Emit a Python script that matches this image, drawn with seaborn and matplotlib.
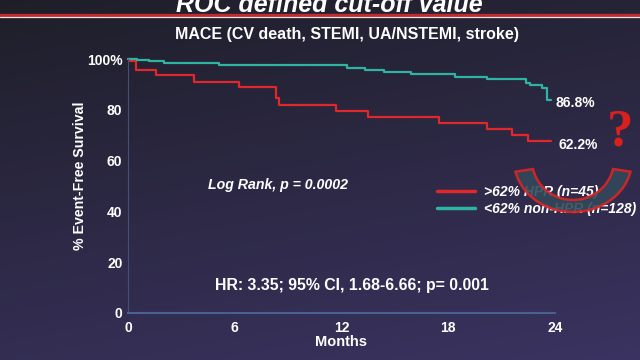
import numpy as np
import pandas as pd
import matplotlib.pyplot as plt
import matplotlib.patches as mpatches
from matplotlib.lines import Line2D
import seaborn as sns

# Kaplan-Meier style event-free survival, MACE, split by HPR cut-off

months_hpr = [0, 0.1, 0.45, 1.6, 3.7, 6.25, 8.3, 8.5, 11.7, 13.5, 17.5, 20.2, 21.6, 22.5, 23.8]
surv_hpr = [100, 99.2, 95.7, 93.7, 90.9, 89.0, 84.6, 81.9, 79.5, 77.2, 74.8, 72.4, 70.1, 67.7, 67.7]

months_non = [0, 0.5, 1.2, 2.0, 5.1, 12.3, 13.3, 14.4, 15.9, 18.4, 20.2, 22.4, 22.6, 23.3, 23.55, 23.8]
surv_non = [100, 99.8, 99.2, 98.5, 97.6, 96.7, 95.9, 95.0, 94.0, 93.0, 92.1, 90.6, 89.8, 88.6, 83.9, 83.9]

groups = [">62% HPR (n=45)", "<62% non-HPR (n=128)"]
end_labels = ["62.2%", "86.8%"]
x_ticks = [0, 6, 12, 18, 24]
y_ticks = [0, 20, 40, 60, 80, 100]
y_ticklabels = ["0", "20", "40", "60", "80", "100%"]

df = pd.concat([
    pd.DataFrame({"Months": months_hpr, "Survival": surv_hpr, "Group": groups[0]}),
    pd.DataFrame({"Months": months_non, "Survival": surv_non, "Group": groups[1]}),
])

sns.set_style("white")
plt.rcParams["font.family"] = ["Liberation Sans", "DejaVu Sans"]

fig = plt.figure(figsize=(6.4, 3.6), dpi=100)

# slide background gradient
bg = fig.add_axes([0, 0, 1, 1], zorder=-5)
yy, xx = np.mgrid[0:1:200j, 0:1:360j]
t = np.clip(0.75 * yy + 0.25 * xx, 0, 1)
top = np.array([0.12, 0.12, 0.16])
bot = np.array([0.23, 0.20, 0.38])
img = top[None, None, :] * (1 - t[..., None]) + bot[None, None, :] * t[..., None]
bg.imshow(img, aspect="auto", extent=[0, 1, 0, 1], origin="upper")
bg.axis("off")

ax = fig.add_axes([0.2, 0.1306, 0.667, 0.705])
ax.set_facecolor("none")
palette = {groups[0]: "#e0282a", groups[1]: "#2fb3a3"}
sns.lineplot(data=df, x="Months", y="Survival", hue="Group", palette=palette,
             estimator=None, sort=False, drawstyle="steps-post", linewidth=1.6,
             ax=ax, legend=True)
for ln in ax.lines:
    ln.set_clip_on(False)

ax.set_xlim(0, 24)
ax.set_ylim(0, 100)
ax.set_xticks(x_ticks)
ax.set_yticks(y_ticks)
ax.set_yticklabels(y_ticklabels)
ax.tick_params(length=0, colors="white", labelsize=10)
ax.tick_params(axis="x", pad=6)
ax.tick_params(axis="y", pad=4)
for lab in ax.get_xticklabels() + ax.get_yticklabels():
    lab.set_fontweight("bold")
for s in ["top", "right"]:
    ax.spines[s].set_visible(False)
ax.spines["left"].set_color("#44507a")
ax.spines["bottom"].set_color("#4a5f92")
ax.spines["bottom"].set_linewidth(1.5)
ax.set_xlabel("Months", color="white", fontsize=10.5, fontweight="bold", labelpad=0)
ax.set_ylabel("% Event-Free Survival", color="white", fontsize=10.2, fontweight="bold")
ax.yaxis.set_label_coords(-0.095, 0.54)

leg = ax.legend(loc="upper left", bbox_to_anchor=(0.683, 0.486),
                bbox_transform=fig.transFigure, frameon=False, borderpad=0,
                borderaxespad=0, handlelength=2.7, handletextpad=0.7,
                labelspacing=0.22,
                prop=dict(style="italic", weight="bold", size=10))
for txt in leg.get_texts():
    txt.set_color("white")
for h in leg.legend_handles:
    h.set_linewidth(2.5)

ax.text(months_hpr[-1] + 0.4, surv_hpr[-1] - 1.5, end_labels[0], color="white",
        fontsize=10, fontweight="bold", va="center", ha="left")
ax.text(months_non[-1] + 0.25, surv_non[-1] - 1, end_labels[1], color="white",
        fontsize=10, fontweight="bold", va="center", ha="left")
ax.text(4.5, 50.5, "Log Rank, p = 0.0002", color="white", fontsize=10.2,
        fontweight="bold", style="italic", va="center")
ax.text(4.9, 11, "HR: 3.35; 95% CI, 1.68-6.66; p= 0.001", color="white",
        fontsize=11.4, fontweight="bold", va="center")

# slide title (cut at the top edge, as on the slide) and rules
fig.text(0.514, 0.967, "ROC defined cut-off value", color="white", fontsize=18,
         fontweight="bold", style="italic", ha="center", va="baseline")
fig.add_artist(Line2D([0, 1], [1 - 14.5 / 360] * 2, color="#c22a2c", lw=2.4))
fig.add_artist(Line2D([0, 1], [1 - 17.3 / 360] * 2, color="#e8e8ee", lw=0.9))
fig.text(0.542, 0.905, "MACE (CV death, STEMI, UA/NSTEMI, stroke)", color="white",
         fontsize=11.5, fontweight="bold", ha="center", va="center")

# red question mark and crescent arrow drawn on the slide
fig.text(0.968, 0.632, "?", color="#d8201f", fontsize=38, fontweight="bold",
         family=["Liberation Serif", "DejaVu Serif"], ha="center", va="center")
ang = np.linspace(np.deg2rad(13), np.deg2rad(167), 80)
cx, cy = 573, 160
outer = np.c_[cx + 59 * np.cos(ang), cy + 52 * np.sin(ang)]
inner = np.c_[cx + 41 * np.cos(ang[::-1]), cy + 40 * np.sin(ang[::-1])]
pts = np.vstack([outer, inner])
pts = np.c_[pts[:, 0] / 640, 1 - pts[:, 1] / 360]
fig.add_artist(mpatches.Polygon(pts, closed=True, transform=fig.transFigure,
                                facecolor="#33495a", edgecolor="#dd2424",
                                lw=1.8, alpha=0.9))

fig.savefig("out.png", dpi=100)
